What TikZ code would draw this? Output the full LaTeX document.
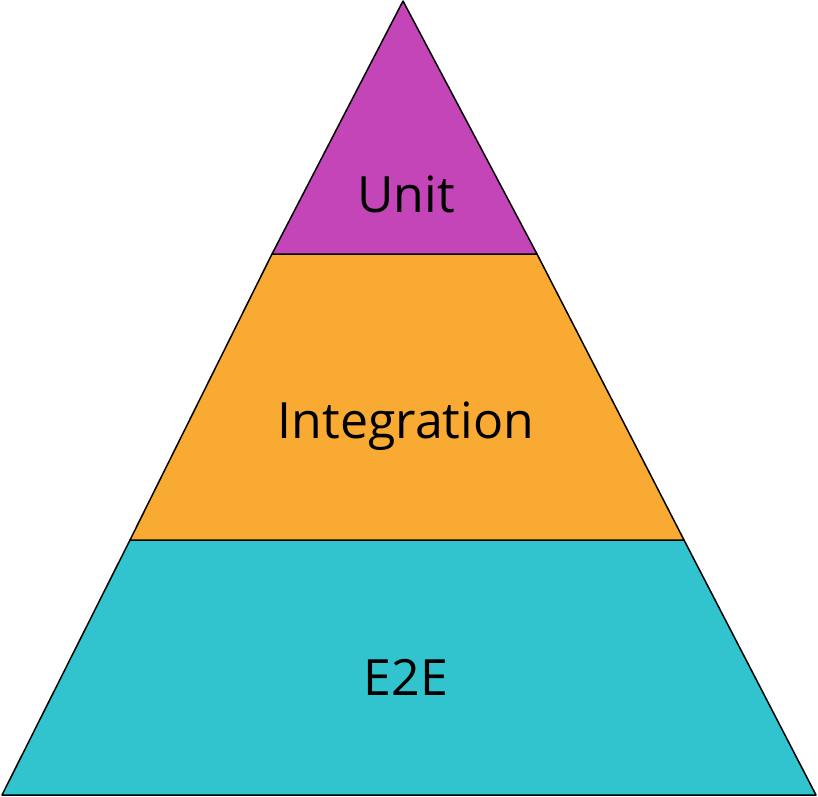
\documentclass[tikz,border=0pt]{standalone}
\usepackage{fontspec}
\setmainfont{Open Sans}
\definecolor{cunit}{HTML}{C345B7}
\definecolor{cint}{HTML}{F9AA33}
\definecolor{ce2e}{HTML}{31C3CE}
\begin{document}
\begin{tikzpicture}[x=1pt,y=-1pt,
  band/.style={draw=black,line width=1.5pt,line join=round},
  lbl/.style={font=\fontsize{50}{60}\selectfont,text=black}]
\useasboundingbox (0,0) rectangle (818,796);
\coordinate (apex) at (403,1);
\coordinate (ul) at (272,254);
\coordinate (ur) at (537,254);
\coordinate (ml) at (130,540);
\coordinate (mr) at (684,540);
\coordinate (bl) at (2,795);
\coordinate (br) at (816,795);
\draw[band,fill=ce2e] (ml) -- (mr) -- (br) -- (bl) -- cycle;
\draw[band,fill=cint] (ul) -- (ur) -- (mr) -- (ml) -- cycle;
\draw[band,fill=cunit] (apex) -- (ur) -- (ul) -- cycle;
\node[lbl] (unit) at (406,194) {Unit};
\node[lbl] (integ) at (406,426) {Integration};
\node[lbl] (e2e) at (406,677) {E2E};
\end{tikzpicture}
\end{document}
